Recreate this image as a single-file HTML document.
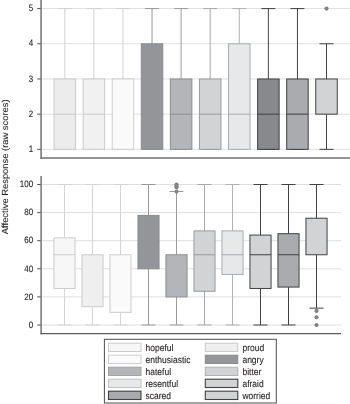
<!DOCTYPE html>
<html><head><meta charset="utf-8"><title>Affective Response</title>
<style>html,body{margin:0;padding:0;background:#fff}svg{display:block}text{text-rendering:geometricPrecision;font-family:"Liberation Sans",Arial,Helvetica,sans-serif;fill:#231f20;stroke:#231f20;stroke-width:0.1px}</style></head>
<body>
<svg width="350" height="404" viewBox="0 0 350 404">
<rect width="350" height="404" fill="#fff"/>
<line x1="42.1" y1="149.35" x2="350" y2="149.35" stroke="#dfdfdf" stroke-width="1"/>
<line x1="42.1" y1="114.16" x2="350" y2="114.16" stroke="#dfdfdf" stroke-width="1"/>
<line x1="42.1" y1="78.97" x2="350" y2="78.97" stroke="#dfdfdf" stroke-width="1"/>
<line x1="42.1" y1="43.78" x2="350" y2="43.78" stroke="#dfdfdf" stroke-width="1"/>
<line x1="42.1" y1="8.59" x2="350" y2="8.59" stroke="#dfdfdf" stroke-width="1"/>
<line x1="64.8" y1="8.59" x2="64.8" y2="149.35" stroke="#d2d2d2" stroke-width="1"/>
<line x1="57.8" y1="149.35" x2="71.8" y2="149.35" stroke="#d2d2d2" stroke-width="1"/>
<line x1="57.8" y1="8.59" x2="71.8" y2="8.59" stroke="#d2d2d2" stroke-width="1"/>
<rect x="54.05" y="78.97" width="21.5" height="70.38" fill="#ececec" stroke="#c9c9c9" stroke-width="1"/>
<line x1="54.05" y1="114.16" x2="75.55" y2="114.16" stroke="#c9c9c9" stroke-width="1"/>
<line x1="93.88" y1="8.59" x2="93.88" y2="149.35" stroke="#d2d2d2" stroke-width="1"/>
<line x1="86.88" y1="149.35" x2="100.88" y2="149.35" stroke="#d2d2d2" stroke-width="1"/>
<line x1="86.88" y1="8.59" x2="100.88" y2="8.59" stroke="#d2d2d2" stroke-width="1"/>
<rect x="83.13" y="78.97" width="21.5" height="70.38" fill="#f1f1f1" stroke="#cbcbcb" stroke-width="1"/>
<line x1="83.13" y1="114.16" x2="104.63" y2="114.16" stroke="#cbcbcb" stroke-width="1"/>
<line x1="122.96" y1="8.59" x2="122.96" y2="149.35" stroke="#d2d2d2" stroke-width="1"/>
<line x1="115.96" y1="149.35" x2="129.96" y2="149.35" stroke="#d2d2d2" stroke-width="1"/>
<line x1="115.96" y1="8.59" x2="129.96" y2="8.59" stroke="#d2d2d2" stroke-width="1"/>
<rect x="112.21" y="78.97" width="21.5" height="70.38" fill="#fafafa" stroke="#cdcdcd" stroke-width="1"/>
<line x1="152.04" y1="8.59" x2="152.04" y2="149.35" stroke="#96989b" stroke-width="1"/>
<line x1="145.04" y1="149.35" x2="159.04" y2="149.35" stroke="#96989b" stroke-width="1"/>
<line x1="145.04" y1="8.59" x2="159.04" y2="8.59" stroke="#96989b" stroke-width="1"/>
<rect x="141.29" y="43.78" width="21.5" height="105.57" fill="#939598" stroke="#8a8c8f" stroke-width="1"/>
<line x1="181.12" y1="8.59" x2="181.12" y2="149.35" stroke="#999b9e" stroke-width="1"/>
<line x1="174.12" y1="149.35" x2="188.12" y2="149.35" stroke="#999b9e" stroke-width="1"/>
<line x1="174.12" y1="8.59" x2="188.12" y2="8.59" stroke="#999b9e" stroke-width="1"/>
<rect x="170.37" y="78.97" width="21.5" height="70.38" fill="#b3b5b8" stroke="#8c8e91" stroke-width="1"/>
<line x1="170.37" y1="114.16" x2="191.87" y2="114.16" stroke="#8c8e91" stroke-width="1"/>
<line x1="210.2" y1="8.59" x2="210.2" y2="149.35" stroke="#a7a9ac" stroke-width="1"/>
<line x1="203.2" y1="149.35" x2="217.2" y2="149.35" stroke="#a7a9ac" stroke-width="1"/>
<line x1="203.2" y1="8.59" x2="217.2" y2="8.59" stroke="#a7a9ac" stroke-width="1"/>
<rect x="199.45" y="78.97" width="21.5" height="70.38" fill="#d1d3d4" stroke="#999b9e" stroke-width="1"/>
<line x1="199.45" y1="114.16" x2="220.95" y2="114.16" stroke="#999b9e" stroke-width="1"/>
<line x1="239.28" y1="8.59" x2="239.28" y2="149.35" stroke="#b0b2b5" stroke-width="1"/>
<line x1="232.28" y1="149.35" x2="246.28" y2="149.35" stroke="#b0b2b5" stroke-width="1"/>
<line x1="232.28" y1="8.59" x2="246.28" y2="8.59" stroke="#b0b2b5" stroke-width="1"/>
<rect x="228.53" y="43.78" width="21.5" height="105.57" fill="#e7e8e9" stroke="#a9abae" stroke-width="1"/>
<line x1="228.53" y1="114.16" x2="250.03" y2="114.16" stroke="#a9abae" stroke-width="1"/>
<line x1="268.36" y1="8.59" x2="268.36" y2="149.35" stroke="#414042" stroke-width="1"/>
<line x1="261.36" y1="149.35" x2="275.36" y2="149.35" stroke="#414042" stroke-width="1"/>
<line x1="261.36" y1="8.59" x2="275.36" y2="8.59" stroke="#414042" stroke-width="1"/>
<rect x="257.61" y="78.97" width="21.5" height="70.38" fill="#87898c" stroke="#414042" stroke-width="1"/>
<line x1="257.61" y1="114.16" x2="279.11" y2="114.16" stroke="#414042" stroke-width="1"/>
<line x1="297.44" y1="8.59" x2="297.44" y2="149.35" stroke="#414042" stroke-width="1"/>
<line x1="290.44" y1="149.35" x2="304.44" y2="149.35" stroke="#414042" stroke-width="1"/>
<line x1="290.44" y1="8.59" x2="304.44" y2="8.59" stroke="#414042" stroke-width="1"/>
<rect x="286.69" y="78.97" width="21.5" height="70.38" fill="#a9abae" stroke="#414042" stroke-width="1"/>
<line x1="286.69" y1="114.16" x2="308.19" y2="114.16" stroke="#414042" stroke-width="1"/>
<line x1="326.52" y1="43.78" x2="326.52" y2="149.35" stroke="#414042" stroke-width="1"/>
<line x1="319.52" y1="149.35" x2="333.52" y2="149.35" stroke="#414042" stroke-width="1"/>
<line x1="319.52" y1="43.78" x2="333.52" y2="43.78" stroke="#414042" stroke-width="1"/>
<rect x="315.77" y="78.97" width="21.5" height="35.19" fill="#d1d3d4" stroke="#414042" stroke-width="1"/>
<circle cx="326.52" cy="8.59" r="2.1" fill="#808285"/>
<line x1="41.1" y1="0" x2="41.1" y2="158.65" stroke="#707173" stroke-width="1.5"/>
<line x1="40.35" y1="157.9" x2="350" y2="157.9" stroke="#707173" stroke-width="1.5"/>
<line x1="37.3" y1="149.35" x2="40.6" y2="149.35" stroke="#3a3a3c" stroke-width="0.9"/>
<text transform="translate(33.2,152.05) scale(1,1.17)" font-size="8" text-anchor="end">1</text>
<line x1="37.3" y1="114.16" x2="40.6" y2="114.16" stroke="#3a3a3c" stroke-width="0.9"/>
<text transform="translate(33.2,116.86) scale(1,1.17)" font-size="8" text-anchor="end">2</text>
<line x1="37.3" y1="78.97" x2="40.6" y2="78.97" stroke="#3a3a3c" stroke-width="0.9"/>
<text transform="translate(33.2,81.67) scale(1,1.17)" font-size="8" text-anchor="end">3</text>
<line x1="37.3" y1="43.78" x2="40.6" y2="43.78" stroke="#3a3a3c" stroke-width="0.9"/>
<text transform="translate(33.2,46.48) scale(1,1.17)" font-size="8" text-anchor="end">4</text>
<line x1="37.3" y1="8.59" x2="40.6" y2="8.59" stroke="#3a3a3c" stroke-width="0.9"/>
<text transform="translate(33.2,11.29) scale(1,1.17)" font-size="8" text-anchor="end">5</text>
<line x1="42.1" y1="325" x2="341" y2="325" stroke="#dfdfdf" stroke-width="1"/>
<line x1="42.1" y1="296.9" x2="341" y2="296.9" stroke="#dfdfdf" stroke-width="1"/>
<line x1="42.1" y1="268.8" x2="341" y2="268.8" stroke="#dfdfdf" stroke-width="1"/>
<line x1="42.1" y1="240.7" x2="341" y2="240.7" stroke="#dfdfdf" stroke-width="1"/>
<line x1="42.1" y1="212.6" x2="341" y2="212.6" stroke="#dfdfdf" stroke-width="1"/>
<line x1="42.1" y1="184.5" x2="341" y2="184.5" stroke="#dfdfdf" stroke-width="1"/>
<line x1="64.5" y1="184.5" x2="64.5" y2="325" stroke="#d4d4d4" stroke-width="1"/>
<line x1="57.5" y1="325" x2="71.5" y2="325" stroke="#d4d4d4" stroke-width="1"/>
<line x1="57.5" y1="184.5" x2="71.5" y2="184.5" stroke="#d4d4d4" stroke-width="1"/>
<rect x="53.95" y="237.89" width="21.1" height="50.58" fill="#f7f7f7" stroke="#cbcbcb" stroke-width="1"/>
<line x1="53.95" y1="254.75" x2="75.05" y2="254.75" stroke="#cbcbcb" stroke-width="1"/>
<line x1="92.5" y1="184.5" x2="92.5" y2="325" stroke="#d4d4d4" stroke-width="1"/>
<line x1="85.5" y1="325" x2="99.5" y2="325" stroke="#d4d4d4" stroke-width="1"/>
<line x1="85.5" y1="184.5" x2="99.5" y2="184.5" stroke="#d4d4d4" stroke-width="1"/>
<rect x="81.95" y="254.75" width="21.1" height="51.99" fill="#efefef" stroke="#cbcbcb" stroke-width="1"/>
<line x1="120.5" y1="184.5" x2="120.5" y2="325" stroke="#d4d4d4" stroke-width="1"/>
<line x1="113.5" y1="325" x2="127.5" y2="325" stroke="#d4d4d4" stroke-width="1"/>
<line x1="113.5" y1="184.5" x2="127.5" y2="184.5" stroke="#d4d4d4" stroke-width="1"/>
<rect x="109.95" y="254.75" width="21.1" height="57.61" fill="#fafafa" stroke="#cdcdcd" stroke-width="1"/>
<line x1="148.5" y1="184.5" x2="148.5" y2="325" stroke="#96989b" stroke-width="1"/>
<line x1="141.5" y1="325" x2="155.5" y2="325" stroke="#96989b" stroke-width="1"/>
<line x1="141.5" y1="184.5" x2="155.5" y2="184.5" stroke="#96989b" stroke-width="1"/>
<rect x="137.95" y="215.41" width="21.1" height="53.39" fill="#939598" stroke="#8a8c8f" stroke-width="1"/>
<line x1="176.5" y1="191.53" x2="176.5" y2="325" stroke="#999b9e" stroke-width="1"/>
<line x1="169.5" y1="325" x2="183.5" y2="325" stroke="#999b9e" stroke-width="1"/>
<line x1="169.5" y1="191.53" x2="183.5" y2="191.53" stroke="#999b9e" stroke-width="1"/>
<rect x="165.95" y="254.75" width="21.1" height="42.15" fill="#b3b5b8" stroke="#8c8e91" stroke-width="1"/>
<circle cx="176.5" cy="191.53" r="2.1" fill="#808285"/>
<circle cx="176.5" cy="187.31" r="2.1" fill="#808285"/>
<circle cx="176.5" cy="185.91" r="2.1" fill="#808285"/>
<circle cx="176.5" cy="184.5" r="2.1" fill="#808285"/>
<line x1="204.5" y1="184.5" x2="204.5" y2="325" stroke="#a7a9ac" stroke-width="1"/>
<line x1="197.5" y1="325" x2="211.5" y2="325" stroke="#a7a9ac" stroke-width="1"/>
<line x1="197.5" y1="184.5" x2="211.5" y2="184.5" stroke="#a7a9ac" stroke-width="1"/>
<rect x="193.95" y="230.87" width="21.1" height="60.41" fill="#d1d3d4" stroke="#999b9e" stroke-width="1"/>
<line x1="193.95" y1="254.75" x2="215.05" y2="254.75" stroke="#999b9e" stroke-width="1"/>
<line x1="232.5" y1="184.5" x2="232.5" y2="325" stroke="#b0b2b5" stroke-width="1"/>
<line x1="225.5" y1="325" x2="239.5" y2="325" stroke="#b0b2b5" stroke-width="1"/>
<line x1="225.5" y1="184.5" x2="239.5" y2="184.5" stroke="#b0b2b5" stroke-width="1"/>
<rect x="221.95" y="230.87" width="21.1" height="43.56" fill="#e7e8e9" stroke="#a9abae" stroke-width="1"/>
<line x1="221.95" y1="254.75" x2="243.05" y2="254.75" stroke="#a9abae" stroke-width="1"/>
<line x1="260.5" y1="184.5" x2="260.5" y2="325" stroke="#414042" stroke-width="1"/>
<line x1="253.5" y1="325" x2="267.5" y2="325" stroke="#414042" stroke-width="1"/>
<line x1="253.5" y1="184.5" x2="267.5" y2="184.5" stroke="#414042" stroke-width="1"/>
<rect x="249.95" y="235.08" width="21.1" height="53.39" fill="#d1d3d4" stroke="#414042" stroke-width="1"/>
<line x1="249.95" y1="254.75" x2="271.05" y2="254.75" stroke="#414042" stroke-width="1"/>
<line x1="288.5" y1="184.5" x2="288.5" y2="325" stroke="#414042" stroke-width="1"/>
<line x1="281.5" y1="325" x2="295.5" y2="325" stroke="#414042" stroke-width="1"/>
<line x1="281.5" y1="184.5" x2="295.5" y2="184.5" stroke="#414042" stroke-width="1"/>
<rect x="277.95" y="233.68" width="21.1" height="53.39" fill="#a9abae" stroke="#414042" stroke-width="1"/>
<line x1="277.95" y1="254.75" x2="299.05" y2="254.75" stroke="#414042" stroke-width="1"/>
<line x1="316.5" y1="184.5" x2="316.5" y2="308.14" stroke="#414042" stroke-width="1"/>
<line x1="309.5" y1="308.14" x2="323.5" y2="308.14" stroke="#414042" stroke-width="1"/>
<line x1="309.5" y1="184.5" x2="323.5" y2="184.5" stroke="#414042" stroke-width="1"/>
<rect x="305.95" y="218.22" width="21.1" height="36.53" fill="#d1d3d4" stroke="#414042" stroke-width="1"/>
<circle cx="316.5" cy="310.95" r="2.1" fill="#808285"/>
<circle cx="316.5" cy="317.27" r="2.1" fill="#808285"/>
<circle cx="316.5" cy="325" r="2.1" fill="#808285"/>
<line x1="41.1" y1="175.9" x2="41.1" y2="334.3" stroke="#5d5e60" stroke-width="1.3"/>
<line x1="40.45" y1="333.65" x2="341" y2="333.65" stroke="#5d5e60" stroke-width="1.3"/>
<line x1="37.3" y1="325" x2="40.6" y2="325" stroke="#3a3a3c" stroke-width="0.9"/>
<text transform="translate(33.2,327.7) scale(1,1.17)" font-size="8" text-anchor="end">0</text>
<line x1="37.3" y1="296.9" x2="40.6" y2="296.9" stroke="#3a3a3c" stroke-width="0.9"/>
<text transform="translate(33.2,299.6) scale(1,1.17)" font-size="8" text-anchor="end">20</text>
<line x1="37.3" y1="268.8" x2="40.6" y2="268.8" stroke="#3a3a3c" stroke-width="0.9"/>
<text transform="translate(33.2,271.5) scale(1,1.17)" font-size="8" text-anchor="end">40</text>
<line x1="37.3" y1="240.7" x2="40.6" y2="240.7" stroke="#3a3a3c" stroke-width="0.9"/>
<text transform="translate(33.2,243.4) scale(1,1.17)" font-size="8" text-anchor="end">60</text>
<line x1="37.3" y1="212.6" x2="40.6" y2="212.6" stroke="#3a3a3c" stroke-width="0.9"/>
<text transform="translate(33.2,215.3) scale(1,1.17)" font-size="8" text-anchor="end">80</text>
<line x1="37.3" y1="184.5" x2="40.6" y2="184.5" stroke="#3a3a3c" stroke-width="0.9"/>
<text transform="translate(33.2,187.2) scale(1,1.17)" font-size="8" text-anchor="end">100</text>
<text transform="translate(7.5,166.8) rotate(-90) scale(1.065,1)" font-size="8.8" stroke="none" text-anchor="middle">Affective Response (raw scores)</text>
<rect x="104.4" y="339.3" width="171.9" height="63.7" fill="#fff" stroke="#4d4d4f" stroke-width="1"/>
<rect x="108.5" y="343.2" width="32.5" height="8.3" fill="#f7f7f7" stroke="#cbcbcb" stroke-width="1"/>
<text transform="translate(145.5,350.6) scale(1,1.13)" font-size="8.5">hopeful</text>
<rect x="108.5" y="355.2" width="32.5" height="8.3" fill="#fafafa" stroke="#cdcdcd" stroke-width="1"/>
<text transform="translate(145.5,362.6) scale(1,1.13)" font-size="8.5">enthusiastic</text>
<rect x="108.5" y="367.2" width="32.5" height="8.3" fill="#b3b5b8" stroke="#a0a2a5" stroke-width="1"/>
<text transform="translate(145.5,374.6) scale(1,1.13)" font-size="8.5">hateful</text>
<rect x="108.5" y="379.2" width="32.5" height="8.3" fill="#e7e8e9" stroke="#c0c2c4" stroke-width="1"/>
<text transform="translate(145.5,386.6) scale(1,1.13)" font-size="8.5">resentful</text>
<rect x="108.5" y="391.2" width="32.5" height="8.3" fill="#a9abae" stroke="#414042" stroke-width="1.1"/>
<text transform="translate(145.5,398.6) scale(1,1.13)" font-size="8.5">scared</text>
<rect x="205.3" y="343.2" width="32.5" height="8.3" fill="#efefef" stroke="#cbcbcb" stroke-width="1"/>
<text transform="translate(242.4,350.6) scale(1,1.13)" font-size="8.5">proud</text>
<rect x="205.3" y="355.2" width="32.5" height="8.3" fill="#939598" stroke="#8a8c8f" stroke-width="1"/>
<text transform="translate(242.4,362.6) scale(1,1.13)" font-size="8.5">angry</text>
<rect x="205.3" y="367.2" width="32.5" height="8.3" fill="#d1d3d4" stroke="#b0b2b5" stroke-width="1"/>
<text transform="translate(242.4,374.6) scale(1,1.13)" font-size="8.5">bitter</text>
<rect x="205.3" y="379.2" width="32.5" height="8.3" fill="#d1d3d4" stroke="#414042" stroke-width="1.1"/>
<text transform="translate(242.4,386.6) scale(1,1.13)" font-size="8.5">afraid</text>
<rect x="205.3" y="391.2" width="32.5" height="8.3" fill="#d1d3d4" stroke="#414042" stroke-width="1.1"/>
<text transform="translate(242.4,398.6) scale(1,1.13)" font-size="8.5">worried</text>
</svg>
</body></html>
